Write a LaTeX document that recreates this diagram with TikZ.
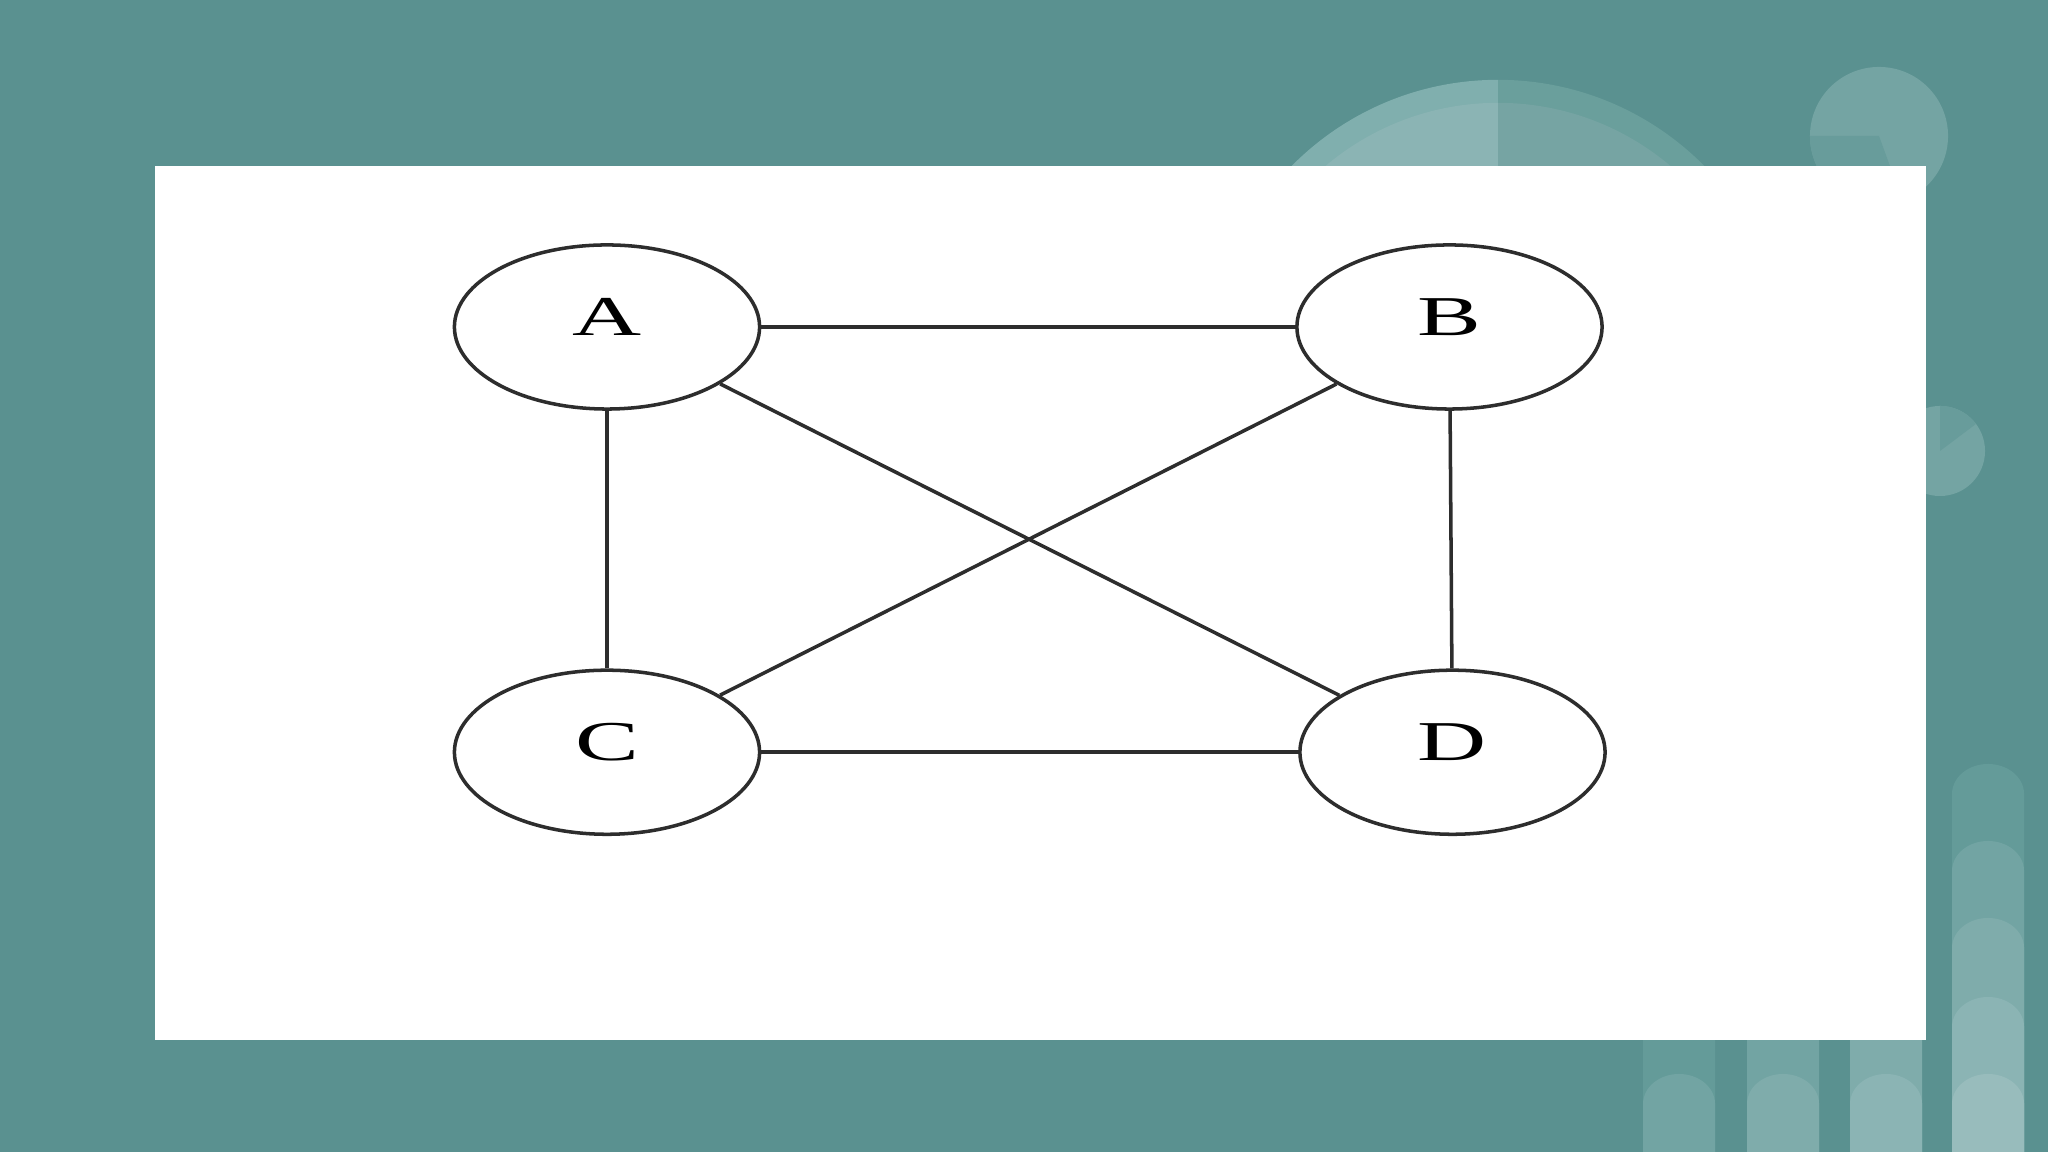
\documentclass[tikz,border=0pt]{standalone}
\usepackage{fontspec}
\usepackage{graphicx}
\setmainfont{Liberation Serif}
\usetikzlibrary{shapes.geometric}
\definecolor{slide}{RGB}{90,145,144}
\definecolor{graphline}{RGB}{45,45,45}
\definecolor{ringleft}{RGB}{128,175,174}
\definecolor{coreleft}{RGB}{139,180,180}
\definecolor{ringright}{RGB}{106,159,156}
\definecolor{coreright}{RGB}{118,164,163}
\definecolor{dotlight}{RGB}{116,164,163}
\definecolor{dotdark}{RGB}{104,156,155}
\definecolor{shadeA}{RGB}{100,155,153}
\definecolor{shadeB}{RGB}{114,164,163}
\definecolor{shadeC}{RGB}{127,172,171}
\definecolor{shadeD}{RGB}{139,180,180}
\definecolor{shadeE}{RGB}{152,188,188}
\tikzset{vertex/.style={ellipse,draw=graphline,line width=1pt,fill=white,minimum width=3.05cm,minimum height=1.64cm,inner sep=0pt,text depth=0.2cm,font=\fontsize{16}{18}\selectfont}}
\tikzset{link/.style={draw=graphline,line width=1pt}}
\newcommand{\wide}[1]{\scalebox{1.7}[1]{#1}}
\newcommand{\barlayer}[3]{\fill[#3] (#1,0) -- (#1,{#2-30}) arc[start angle=180,end angle=0,x radius=0.36cm,y radius=0.30cm] -- ({#1+72},0) -- cycle;}

\begin{document}
\begin{tikzpicture}[x=0.01cm,y=0.01cm]
\useasboundingbox (0,0) rectangle (2048,1152);
\fill[slide] (0,0) rectangle (2048,1152);
% big half-tone circle
\begin{scope}
\clip (0,0) rectangle (1498,1152);
\fill[ringleft] (1498,782) circle[radius=2.9cm];
\fill[coreleft] (1498,782) circle[radius=2.67cm];
\end{scope}
\begin{scope}
\clip (1498,0) rectangle (2048,1152);
\fill[ringright] (1498,782) circle[radius=2.9cm];
\fill[coreright] (1498,782) circle[radius=2.67cm];
\end{scope}
% small pie circles
\fill[dotlight] (1879,1016) circle[radius=0.69cm];
\fill[dotdark] (1879,1016) -- ++(180:0.69cm) arc[start angle=180,end angle=290,radius=0.69cm] -- cycle;
\fill[dotlight] (1940,701) circle[radius=0.45cm];
\fill[dotdark] (1940,701) -- ++(37:0.45cm) arc[start angle=37,end angle=90,radius=0.45cm] -- cycle;
% bars
\barlayer{1643}{250}{shadeA}
\barlayer{1643}{78}{shadeB}
\barlayer{1747}{250}{shadeB}
\barlayer{1747}{78}{shadeC}
\barlayer{1850}{250}{shadeC}
\barlayer{1850}{78}{shadeD}
\barlayer{1952}{388}{shadeA}
\barlayer{1952}{311}{shadeB}
\barlayer{1952}{234}{shadeC}
\barlayer{1952}{155}{shadeD}
\barlayer{1952}{78}{shadeE}
% white card
\fill[white] (155,112) rectangle (1926,986);
% graph
\node[vertex](A) at (607,825) {\wide{A}};
\node[vertex,node distance=8.42cm](B)[right of=A]{\wide{B}} edge[link](A);
\node[vertex,node distance=4.25cm](C)[below of=A]{\wide{C}} edge[link](A);
\node[vertex,node distance=8.45cm](D)[right of=C]{\wide{D}} edge[link](C) edge[link](B);
\draw[link](A) -- (D);
\draw[link](B) -- (C);
\end{tikzpicture}
\end{document}
